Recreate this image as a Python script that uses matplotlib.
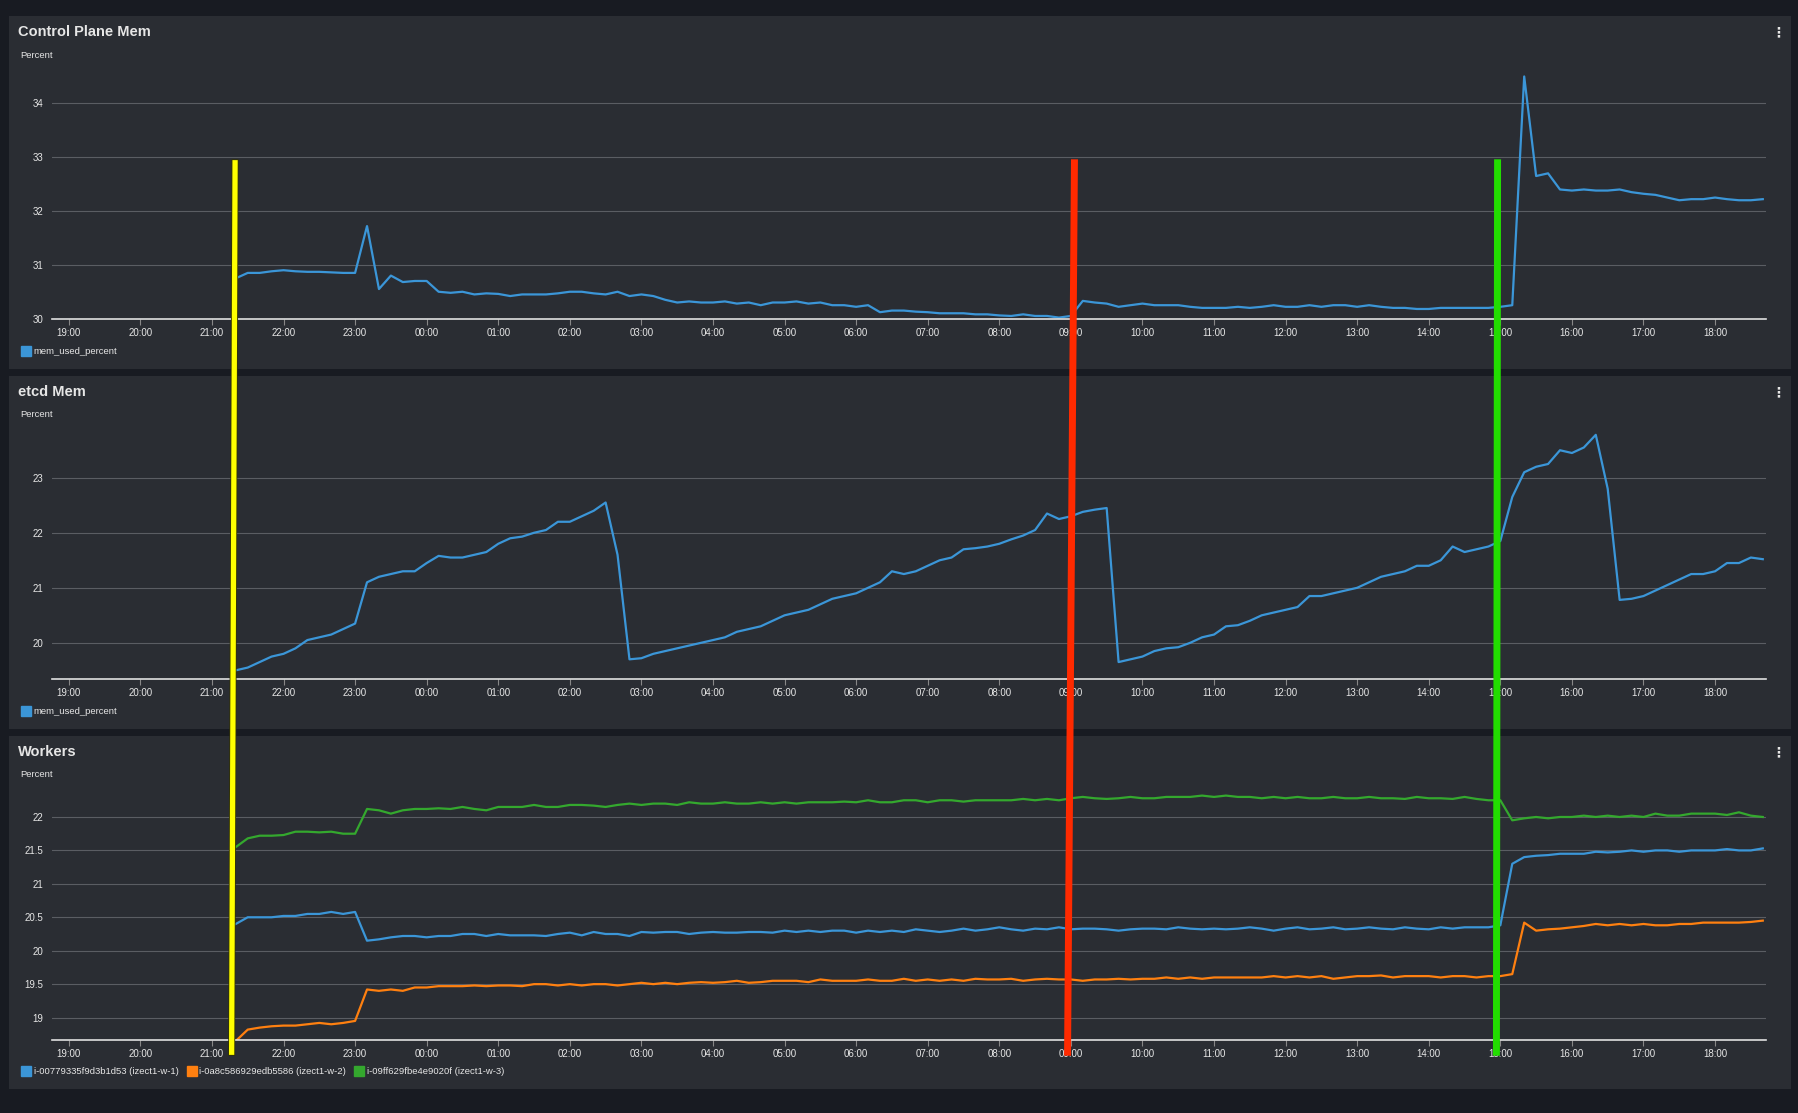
import matplotlib
matplotlib.use("Agg")
import matplotlib.pyplot as plt
from matplotlib.patches import Rectangle
from matplotlib.lines import Line2D

plt.rcParams['font.family'] = ['Liberation Sans', 'DejaVu Sans']

# time axis: hours since 19:00, samples every 10 minutes from 21:20 to 18:40
start_h = 2 + 20/60
n = 129
times = [start_h + i/6 for i in range(n)]
tick_hours = list(range(24))
tick_labels = ["%02d:00" % ((19 + h) % 24) for h in tick_hours]

cp_mem = [30.75,30.85,30.85,30.88,
 30.9,30.88,30.87,30.87,30.86,30.85,
 30.85,31.72,30.55,30.8,30.68,30.7,
 30.7,30.5,30.48,30.5,30.45,30.47,
 30.46,30.42,30.45,30.45,30.45,30.47,
 30.5,30.5,30.47,30.45,30.5,30.42,
 30.45,30.42,30.35,30.3,30.32,30.3,
 30.3,30.32,30.28,30.3,30.25,30.3,
 30.3,30.32,30.28,30.3,30.25,30.25,
 30.22,30.25,30.12,30.15,30.15,30.13,
 30.12,30.1,30.1,30.1,30.08,30.08,
 30.06,30.05,30.08,30.05,30.05,30.02,
 30.05,30.33,30.3,30.28,30.22,30.25,
 30.28,30.25,30.25,30.25,30.22,30.2,
 30.2,30.2,30.22,30.2,30.22,30.25,
 30.22,30.22,30.25,30.22,30.25,30.25,
 30.22,30.25,30.22,30.2,30.2,30.18,
 30.18,30.2,30.2,30.2,30.2,30.2,
 30.22,30.25,34.5,32.65,32.7,32.4,
 32.38,32.4,32.38,32.38,32.4,32.35,
 32.32,32.3,32.25,32.2,32.22,32.22,
 32.25,32.22,32.2,32.2,32.22]

etcd_mem = [19.5,19.55,19.65,19.75,
 19.8,19.9,20.05,20.1,20.15,20.25,
 20.35,21.1,21.2,21.25,21.3,21.3,
 21.45,21.58,21.55,21.55,21.6,21.65,
 21.8,21.9,21.93,22.0,22.05,22.2,
 22.2,22.3,22.4,22.55,21.6,19.7,
 19.72,19.8,19.85,19.9,19.95,20.0,
 20.05,20.1,20.2,20.25,20.3,20.4,
 20.5,20.55,20.6,20.7,20.8,20.85,
 20.9,21.0,21.1,21.3,21.25,21.3,
 21.4,21.5,21.55,21.7,21.72,21.75,
 21.8,21.88,21.95,22.05,22.35,22.25,
 22.3,22.38,22.42,22.45,19.65,19.7,
 19.75,19.85,19.9,19.92,20.0,20.1,
 20.15,20.3,20.32,20.4,20.5,20.55,
 20.6,20.65,20.85,20.85,20.9,20.95,
 21.0,21.1,21.2,21.25,21.3,21.4,
 21.4,21.5,21.75,21.65,21.7,21.75,
 21.85,22.65,23.1,23.2,23.25,23.5,
 23.45,23.55,23.78,22.8,20.78,20.8,
 20.85,20.95,21.05,21.15,21.25,21.25,
 21.3,21.45,21.45,21.55,21.52]

w1 = [20.4,20.5,20.5,20.5,
 20.52,20.52,20.55,20.55,20.58,20.55,
 20.58,20.15,20.17,20.2,20.22,20.22,
 20.2,20.22,20.22,20.25,20.25,20.22,
 20.25,20.23,20.23,20.23,20.22,20.25,
 20.27,20.23,20.28,20.25,20.25,20.22,
 20.28,20.27,20.28,20.28,20.25,20.27,
 20.28,20.27,20.27,20.28,20.28,20.27,
 20.3,20.28,20.3,20.28,20.3,20.3,
 20.27,20.3,20.28,20.3,20.28,20.32,
 20.3,20.28,20.3,20.33,20.3,20.32,
 20.35,20.32,20.3,20.33,20.32,20.35,
 20.32,20.33,20.33,20.32,20.3,20.32,
 20.33,20.33,20.32,20.35,20.33,20.32,
 20.33,20.32,20.33,20.35,20.33,20.3,
 20.33,20.35,20.32,20.33,20.35,20.32,
 20.33,20.35,20.33,20.32,20.35,20.33,
 20.32,20.35,20.33,20.35,20.35,20.35,
 20.38,21.3,21.4,21.42,21.43,21.45,
 21.45,21.45,21.48,21.47,21.48,21.5,
 21.48,21.5,21.5,21.48,21.5,21.5,
 21.5,21.52,21.5,21.5,21.53]

w2 = [18.65,18.82,18.85,18.87,
 18.88,18.88,18.9,18.92,18.9,18.92,
 18.95,19.42,19.4,19.42,19.4,19.45,
 19.45,19.47,19.47,19.47,19.48,19.47,
 19.48,19.48,19.47,19.5,19.5,19.48,
 19.5,19.48,19.5,19.5,19.48,19.5,
 19.52,19.5,19.52,19.5,19.52,19.53,
 19.52,19.53,19.55,19.52,19.53,19.55,
 19.55,19.55,19.53,19.57,19.55,19.55,
 19.55,19.57,19.55,19.55,19.58,19.55,
 19.57,19.55,19.57,19.55,19.58,19.57,
 19.57,19.58,19.55,19.57,19.58,19.57,
 19.57,19.55,19.57,19.57,19.58,19.57,
 19.58,19.58,19.6,19.58,19.6,19.58,
 19.6,19.6,19.6,19.6,19.6,19.62,
 19.6,19.62,19.6,19.62,19.58,19.6,
 19.62,19.62,19.63,19.6,19.62,19.62,
 19.62,19.6,19.62,19.62,19.6,19.62,
 19.62,19.65,20.42,20.3,20.32,20.33,
 20.35,20.37,20.4,20.38,20.4,20.38,
 20.4,20.38,20.38,20.4,20.4,20.42,
 20.42,20.42,20.42,20.43,20.45]

w3 = [21.55,21.68,21.72,21.72,
 21.73,21.78,21.78,21.77,21.78,21.75,
 21.75,22.12,22.1,22.05,22.1,22.12,
 22.12,22.13,22.12,22.15,22.12,22.1,
 22.15,22.15,22.15,22.18,22.15,22.15,
 22.18,22.18,22.17,22.15,22.18,22.2,
 22.18,22.2,22.2,22.18,22.22,22.2,
 22.2,22.22,22.2,22.2,22.22,22.2,
 22.22,22.2,22.22,22.22,22.22,22.23,
 22.22,22.25,22.22,22.22,22.25,22.25,
 22.22,22.25,22.25,22.23,22.25,22.25,
 22.25,22.25,22.27,22.25,22.27,22.25,
 22.28,22.3,22.28,22.27,22.28,22.3,
 22.28,22.28,22.3,22.3,22.3,22.32,
 22.3,22.32,22.3,22.3,22.28,22.3,
 22.28,22.3,22.28,22.28,22.3,22.28,
 22.28,22.3,22.28,22.28,22.27,22.3,
 22.28,22.28,22.27,22.3,22.27,22.25,
 22.25,21.95,21.98,22.0,21.98,22.0,
 22.0,22.02,22.0,22.02,22.0,22.02,
 22.0,22.05,22.02,22.02,22.05,22.05,
 22.05,22.03,22.07,22.02,22.0]

BLUE, ORANGE, GREEN = "#3b96d8", "#ff8010", "#34a82e"
BG, PANEL, TXT = "#181b22", "#2a2d33", "#e6e6e6"

W, H = 1568.0, 971.0
fig = plt.figure(figsize=(17.98, 11.13), dpi=100, facecolor=BG)

def fx(x): return x / W
def fy(y): return 1 - y / H

panels = [
    dict(title="Control Plane Mem", top=14, bot=322, ab=278, at=62,
         ylim=(30, 34.6), yt=[30, 31, 32, 33, 34], ytl=["30", "31", "32", "33", "34"],
         series=[(cp_mem, BLUE, "mem_used_percent")]),
    dict(title="etcd Mem", top=328, bot=636, ab=592, at=376,
         ylim=(19.35, 23.85), yt=[20, 21, 22, 23], ytl=["20", "21", "22", "23"],
         series=[(etcd_mem, BLUE, "mem_used_percent")]),
    dict(title="Workers", top=642, bot=950, ab=907, at=690,
         ylim=(18.67, 22.39), yt=[19, 19.5, 20, 20.5, 21, 21.5, 22],
         ytl=["19", "19.5", "20", "20.5", "21", "21.5", "22"],
         series=[(w1, BLUE, "i-00779335f9d3b1d53 (izect1-w-1)"),
                 (w2, ORANGE, "i-0a8c586929edb5586 (izect1-w-2)"),
                 (w3, GREEN, "i-09ff629fbe4e9020f (izect1-w-3)")]),
]

for p in panels:
    fig.patches.append(Rectangle((fx(8), fy(p["bot"])), fx(1554), (p["bot"] - p["top"]) / H,
                                 transform=fig.transFigure, facecolor=PANEL, edgecolor="none", zorder=-10))
    fig.text(fx(16), fy(p["top"] + 14), p["title"], color=TXT, fontsize=10.5, fontweight="bold",
             va="center", ha="left")
    fig.text(fx(18), fy(p["top"] + 34), "Percent", color=TXT, fontsize=6.8, va="center")
    fig.text(fx(1551), fy(p["top"] + 14), "⋮", color=TXT, fontsize=10, va="center", ha="center",
             family="DejaVu Sans", fontweight="bold")
    ax = fig.add_axes([fx(45), fy(p["ab"]), fx(1495), (p["ab"] - p["at"]) / H])
    ax.set_facecolor("none")
    for vals, col, lab in p["series"]:
        ax.plot(times, vals, color=col, lw=1.6)
    ax.set_xlim(-0.24, 23.71)
    ax.set_ylim(*p["ylim"])
    ax.set_xticks(tick_hours)
    ax.set_xticklabels(tick_labels)
    ax.set_yticks(p["yt"])
    ax.set_yticklabels(p["ytl"])
    ax.grid(axis="y", color="#5a5d63", lw=0.8)
    for s in ["top", "right", "left"]:
        ax.spines[s].set_visible(False)
    ax.spines["bottom"].set_color("#e0e0e0")
    ax.spines["bottom"].set_linewidth(1.2)
    ax.tick_params(axis="x", colors="#888888", labelcolor=TXT, labelsize=7, length=4, pad=3)
    ax.tick_params(axis="y", length=0, labelcolor=TXT, labelsize=7, pad=6)
    handles = [Line2D([], [], marker="s", ls="none", color=c, markersize=6.5) for _, c, _ in p["series"]]
    labels = [l for _, _, l in p["series"]]
    fig.legend(handles, labels, loc="center left", bbox_to_anchor=(fx(12), fy(p["bot"] - 15)),
               frameon=False, ncol=len(labels), fontsize=6.8, labelcolor=TXT,
               handletextpad=0.4, columnspacing=1.0, handlelength=0.8)

# annotation lines drawn over the panels
for x0, x1, col in [(205, 202, "#ffff00"), (937, 931, "#ff2a00"), (1306, 1305, "#22dd00")]:
    fig.add_artist(Line2D([fx(x0), fx(x1)], [fy(142), fy(918)], transform=fig.transFigure,
                          color="#333300" if col == "#ffff00" else col, lw=5, zorder=10))
    fig.add_artist(Line2D([fx(x0), fx(x1)], [fy(142), fy(918)], transform=fig.transFigure,
                          color=col, lw=3.8, zorder=11))

fig.savefig("out.png", dpi=100, facecolor=BG)
